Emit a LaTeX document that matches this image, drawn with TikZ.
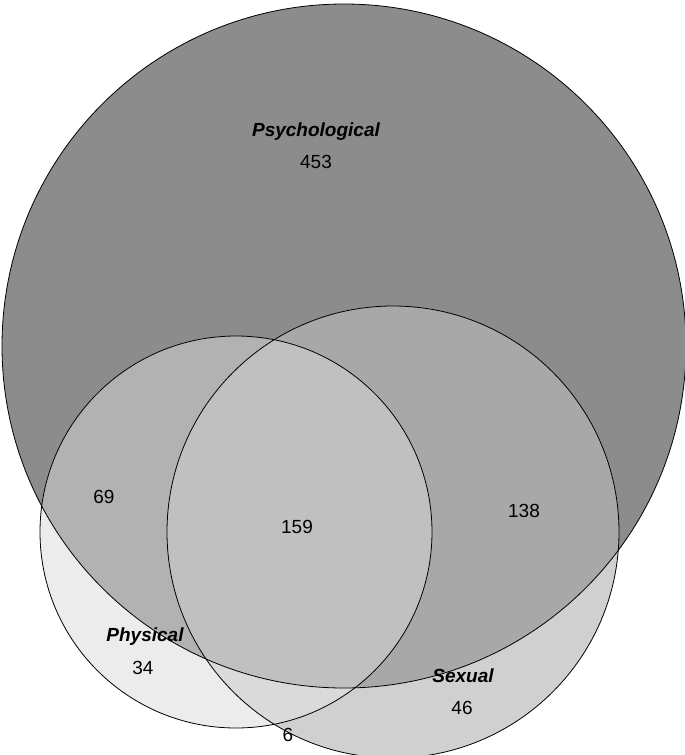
\documentclass[tikz,border=0pt]{standalone}
\usepackage{fontspec}
\setmainfont{Liberation Sans}
\begin{document}
\begin{tikzpicture}[x=1pt,y=-1pt,
  lab/.style={font=\fontsize{19}{22}\selectfont\bfseries\itshape},
  num/.style={font=\fontsize{19}{22}\selectfont},
  ring/.style={draw=black,line width=0.8pt}]
\useasboundingbox (0,0) rectangle (685,755);
\coordinate (P) at (344,346);
\coordinate (H) at (236,532);
\coordinate (S) at (393,532);
\def\rP{342}\def\rH{196}\def\rS{226}
\fill[fill={rgb,255:red,140;green,140;blue,140}] (P) circle (\rP);
\fill[fill={rgb,255:red,236;green,236;blue,236}] (H) circle (\rH);
\fill[fill={rgb,255:red,208;green,208;blue,208}] (S) circle (\rS);
\begin{scope}\clip (P) circle (\rP);
  \fill[fill={rgb,255:red,178;green,178;blue,178}] (H) circle (\rH);
  \fill[fill={rgb,255:red,168;green,168;blue,168}] (S) circle (\rS);
\end{scope}
\begin{scope}\clip (H) circle (\rH);
  \fill[fill={rgb,255:red,218;green,218;blue,218}] (S) circle (\rS);
  \clip (P) circle (\rP);
  \fill[fill={rgb,255:red,192;green,192;blue,192}] (S) circle (\rS);
\end{scope}
\draw[ring] (P) circle (\rP);
\draw[ring] (H) circle (\rH);
\draw[ring] (S) circle (\rS);
\node[lab] (lp) at (316,132) {Psychological};
\node[num] (np) at (316,162) {453};
\node[num] (n69) at (104,497) {69};
\node[num] (n159) at (297,527) {159};
\node[num] (n138) at (524,511) {138};
\node[lab] (lh) at (145,637) {Physical};
\node[num] (nh) at (143,668) {34};
\node[num] (n6) at (288,735) {6};
\node[lab] (ls) at (463,676) {Sexual};
\node[num] (ns) at (462,708) {46};
\end{tikzpicture}
\end{document}
